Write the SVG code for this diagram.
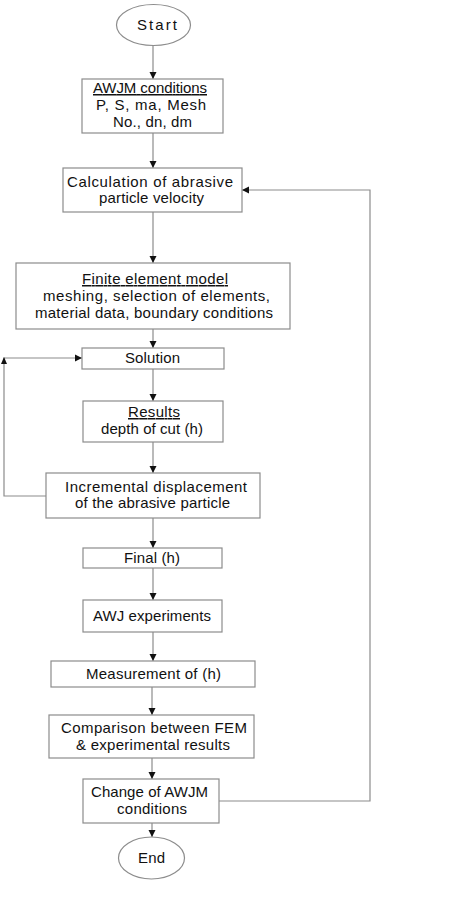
<svg xmlns="http://www.w3.org/2000/svg" width="474" height="906" viewBox="0 0 474 906">
<style>
.box{fill:#fff;stroke:#8c8c8c;stroke-width:1.2}
.t{font-family:"Liberation Sans",Arial,sans-serif;font-size:15px;fill:#111}
.u{text-decoration:underline}
.c{fill:none;stroke:#8c8c8c;stroke-width:1.2}
</style>
<defs>
<marker id="ah" markerWidth="8" markerHeight="8" refX="7" refY="4" orient="auto" markerUnits="userSpaceOnUse">
<path d="M0,0.5 L7,4 L0,7.5 Z" fill="#111"/>
</marker>
</defs>
<rect width="474" height="906" fill="#fff"/>
<g id="connectors">
<line class="c" x1="153" y1="46" x2="153" y2="79" marker-end="url(#ah)"/>
<line class="c" x1="153" y1="133" x2="153" y2="168" marker-end="url(#ah)"/>
<line class="c" x1="153" y1="212" x2="153" y2="263" marker-end="url(#ah)"/>
<line class="c" x1="153" y1="329" x2="153" y2="348" marker-end="url(#ah)"/>
<line class="c" x1="153" y1="369" x2="153" y2="401" marker-end="url(#ah)"/>
<line class="c" x1="153" y1="442" x2="153" y2="473" marker-end="url(#ah)"/>
<line class="c" x1="153" y1="518" x2="153" y2="548" marker-end="url(#ah)"/>
<line class="c" x1="153" y1="568" x2="153" y2="600" marker-end="url(#ah)"/>
<line class="c" x1="153" y1="632" x2="153" y2="661" marker-end="url(#ah)"/>
<line class="c" x1="152" y1="687" x2="152" y2="715" marker-end="url(#ah)"/>
<line class="c" x1="152" y1="758" x2="152" y2="779" marker-end="url(#ah)"/>
<line class="c" x1="152" y1="823" x2="152" y2="837" marker-end="url(#ah)"/>
<polyline class="c" points="46,496 4,496 4,358 82,358" marker-end="url(#ah)"/>
<path d="M1,364 L4,357 L7,364 Z" fill="#111"/>
<polyline class="c" points="219,801 370,801 370,190 242,190" marker-end="url(#ah)"/>
</g>
<g id="start">
<ellipse class="box" cx="153.5" cy="25" rx="37" ry="20.5"/>
<text class="t" x="137" y="30" textLength="40" lengthAdjust="spacing">Start</text>
</g>
<g id="awjm">
<rect class="box" x="82" y="79" width="141" height="54"/>
<text class="t u" x="93" y="93" textLength="114" lengthAdjust="spacing">AWJM conditions</text>
<text class="t" x="96" y="110" textLength="110" lengthAdjust="spacing">P, S, ma, Mesh</text>
<text class="t" x="113" y="127" textLength="79" lengthAdjust="spacing">No., dn, dm</text>
</g>
<g id="calc">
<rect class="box" x="63" y="168" width="179" height="44"/>
<text class="t" x="67" y="187" textLength="166" lengthAdjust="spacing">Calculation of abrasive</text>
<text class="t" x="99" y="203" textLength="105" lengthAdjust="spacing">particle velocity</text>
</g>
<g id="fem">
<rect class="box" x="16" y="263" width="274" height="66"/>
<text class="t u" x="82" y="284" textLength="146" lengthAdjust="spacing">Finite element model</text>
<text class="t" x="43" y="301" textLength="227" lengthAdjust="spacing">meshing,  selection of elements,</text>
<text class="t" x="35" y="318" textLength="238" lengthAdjust="spacing">material data, boundary conditions</text>
</g>
<g id="solution">
<rect class="box" x="82" y="348" width="142" height="21"/>
<text class="t" x="125" y="363" textLength="55" lengthAdjust="spacing">Solution</text>
</g>
<g id="results">
<rect class="box" x="83" y="401" width="140" height="41"/>
<text class="t u" x="128" y="417" textLength="52" lengthAdjust="spacing">Results</text>
<text class="t" x="101" y="434" textLength="102" lengthAdjust="spacing">depth of cut (h)</text>
</g>
<g id="incremental">
<rect class="box" x="46" y="473" width="214" height="45"/>
<text class="t" x="65" y="492" textLength="182" lengthAdjust="spacing">Incremental displacement</text>
<text class="t" x="75" y="508" textLength="155" lengthAdjust="spacing">of the abrasive particle</text>
</g>
<g id="final">
<rect class="box" x="83" y="548" width="139" height="20"/>
<text class="t" x="124" y="563" textLength="56" lengthAdjust="spacing">Final (h)</text>
</g>
<g id="awj">
<rect class="box" x="83" y="600" width="139" height="32"/>
<text class="t" x="93" y="621" textLength="118" lengthAdjust="spacing">AWJ experiments</text>
</g>
<g id="measurement">
<rect class="box" x="51" y="661" width="204" height="26"/>
<text class="t" x="86" y="679" textLength="135" lengthAdjust="spacing">Measurement of (h)</text>
</g>
<g id="comparison">
<rect class="box" x="49" y="715" width="205" height="43"/>
<text class="t" x="61" y="733" textLength="186" lengthAdjust="spacing">Comparison between FEM</text>
<text class="t" x="76" y="750" textLength="154" lengthAdjust="spacing">&amp; experimental results</text>
</g>
<g id="change">
<rect class="box" x="83" y="779" width="136" height="44"/>
<text class="t" x="91" y="797" textLength="117" lengthAdjust="spacing">Change of AWJM</text>
<text class="t" x="117" y="814" textLength="70" lengthAdjust="spacing">conditions</text>
</g>
<g id="end">
<ellipse class="box" cx="151.5" cy="858" rx="33" ry="21"/>
<text class="t" x="138" y="863" textLength="27" lengthAdjust="spacing">End</text>
</g>
</svg>
